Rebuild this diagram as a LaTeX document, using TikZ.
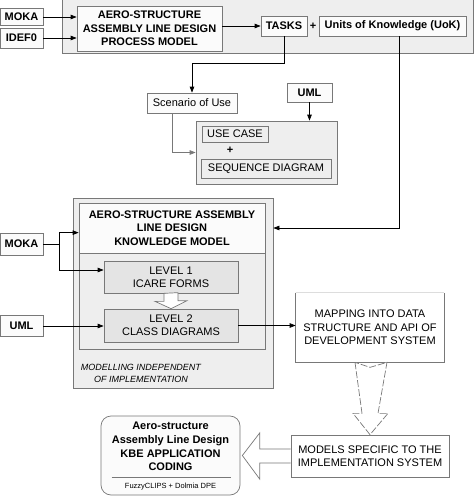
\documentclass[tikz,border=0pt]{standalone}
\usepackage{fontspec}
\setmainfont{Liberation Sans}
\usepackage{tikz}
\usetikzlibrary{positioning, arrows.meta}
\definecolor{kbGray}{RGB}{120, 120, 120}
\definecolor{kbBand}{RGB}{238, 238, 238}
\definecolor{kbLevel}{RGB}{228, 228, 228}
\definecolor{kbLight}{RGB}{251, 251, 251}
\tikzset{
    base/.style={
        font=\fontsize{11}{13.4}\selectfont,
        align=center,
        inner sep=0pt
    },
    tagbox/.style={
        base,
        font=\fontsize{11}{13.4}\selectfont\bfseries,
        rectangle,
        draw=kbGray,
        fill=kbLight
    },
    thinbox/.style={
        base,
        rectangle,
        draw=kbGray,
        fill=kbLight
    },
    panel/.style={
        rectangle,
        draw=kbGray,
        fill=kbBand,
        inner sep=0pt
    },
    flow/.style={
        -{Triangle[length=6pt, width=4.5pt]},
        color=black
    },
    hollow/.style={
        draw=kbGray,
        fill=white
    },
    plus/.style={
        font=\fontsize{11}{12}\selectfont\bfseries,
        inner sep=0pt
    }
}

\begin{document}
\begin{tikzpicture}[x=1pt, y=-1pt, line width=0.7pt]
    \clip (0,0) rectangle (474,496);
    \fill[white] (0,0) rectangle (474,496);

    % Process model band
    \node[panel, minimum width=411pt, minimum height=58pt] (band) at (267.5,24) {};
    \node[tagbox, minimum width=43pt, minimum height=17pt] (mokaA) at (21.5,17) {MOKA};
    \node[tagbox, minimum width=43pt, minimum height=20pt] (idef) at (21.5,38) {IDEF0};
    \node[tagbox, minimum width=145pt, minimum height=45pt] (process) at (149.5,28.5) {AERO-STRUCTURE\\ASSEMBLY LINE DESIGN\\PROCESS MODEL};
    \node[tagbox, minimum width=46pt, minimum height=20pt] (tasks) at (284,26) {TASKS};
    \node[plus] (plusA) at (313,26) {+};
    \node[tagbox, minimum width=147pt, minimum height=20pt] (uok) at (392.5,26) {Units of Knowledge (UoK)};
    \draw[flow] (mokaA.east) -- (mokaA.east -| process.west);
    \draw[flow] (idef.east) -- (idef.east -| process.west);
    \draw[flow] (process.east |- tasks) -- (tasks.west);

    % Scenario of use
    \node[thinbox, minimum width=90pt, minimum height=20pt] (scenario) at (192,103) {Scenario of Use};
    \node[tagbox, minimum width=45pt, minimum height=19pt] (umlA) at (309.5,92.5) {UML};
    \node[panel, minimum width=141pt, minimum height=63pt] (usecases) at (266.5,152.5) {};
    \node[thinbox, fill=kbBand, minimum width=66pt, minimum height=16pt] (usecase) at (235,134) {USE CASE};
    \node[plus] (plusB) at (230,150) {+};
    \node[thinbox, fill=kbBand, minimum width=130pt, minimum height=19pt] (sequence) at (266,168.5) {SEQUENCE DIAGRAM};
    \draw[flow] (tasks.south) -- ++(0,27) -| (scenario.north);
    \draw[flow] (umlA.south) -- (umlA.south |- usecases.north);
    \draw[flow, kbGray] ([xshift=-20pt]scenario.south) |- (usecases.west);

    % Knowledge model
    \node[panel, minimum width=200pt, minimum height=190pt] (outer) at (173,293) {};
    \node[panel, minimum width=186pt, minimum height=146pt] (inner) at (172,276) {};
    \node[tagbox, minimum width=186pt, minimum height=50pt] (header) at (172,228) {AERO-STRUCTURE ASSEMBLY\\LINE DESIGN\\KNOWLEDGE MODEL};
    \node[thinbox, fill=kbLevel, minimum width=134pt, minimum height=32pt] (level1) at (171,277) {LEVEL 1\\ICARE FORMS};
    \node[thinbox, fill=kbLevel, minimum width=134pt, minimum height=33pt] (level2) at (171,325.5) {LEVEL 2\\CLASS DIAGRAMS};
    \draw[hollow] ([xshift=-7pt]level1.south) -- ++(0,8) -- ++(-9,0) -- (level2.north) -- ++(16,-8) -- ++(-9,0) -- ++(0,-8) -- cycle;
    \node[base, font=\fontsize{9}{12}\selectfont\itshape] (caption) at (141,373) {MODELLING INDEPENDENT\\OF IMPLEMENTATION};
    \draw[flow] ([xshift=7pt]uok.south) |- (outer.east |- header.east);

    \node[tagbox, minimum width=43pt, minimum height=22pt] (mokaB) at (21.5,244) {MOKA};
    \node[tagbox, minimum width=43pt, minimum height=21pt] (umlB) at (21.5,326) {UML};
    \draw (mokaB.east) -- ++(16,0) coordinate (split);
    \draw[flow] (split) |- ([yshift=-30pt]inner.north west);
    \draw[flow] (split) |- ([yshift=7pt]level1.west);
    \draw[flow] (umlB.east) -- (umlB.east -| level2.west);

    % Mapping and implementation
    \node[base, fill=white, minimum width=148pt, minimum height=69pt] (mapping) at (370,327.5) {MAPPING INTO DATA\\STRUCTURE AND API OF\\DEVELOPMENT SYSTEM};
    \draw[kbGray!25] (mapping.north west) -- (mapping.north east);
    \draw[kbGray] (mapping.north west) -- (mapping.south west) -- (mapping.south east) -- (mapping.north east);
    \draw[flow] (level2.east) -- (level2.east -| mapping.west);

    \node[thinbox, fill=white, minimum width=158pt, minimum height=42pt] (models) at (370,456) {MODELS SPECIFIC TO THE\\IMPLEMENTATION SYSTEM};
    \draw[hollow, dash pattern=on 7pt off 2pt] ([xshift=-15pt]mapping.south) -- ([shift={(-8,51)}]mapping.south)
        -- ([shift={(-17,51)}]mapping.south) -- (models.north) -- ([shift={(18,51)}]mapping.south)
        -- ([shift={(8,51)}]mapping.south) -- ([xshift=17pt]mapping.south) -- ([shift={(0,5)}]mapping.south) -- cycle;

    \node[thinbox, rounded corners=10pt, minimum width=139pt, minimum height=79pt] (kbe) at (170.5,455.5) {};
    \node[base, font=\fontsize{11}{13.6}\selectfont\bfseries] (kbeTitle) at (170.5,446.5) {Aero-structure\\Assembly Line Design\\KBE APPLICATION\\CODING};
    \draw[kbGray] ([xshift=11pt, yshift=18pt]kbe.south west) -- ([xshift=-9pt, yshift=18pt]kbe.south east);
    \node[base, font=\fontsize{7.5}{9}\selectfont] (kbeTool) at (170.5,487) {FuzzyCLIPS + Dolmia DPE};
    \draw[hollow] ([yshift=7pt]models.west) -- ++(-31,0) -- ++(0,-16) -- ([xshift=2pt]kbe.east)
        -- ([shift={(-31,23)}]models.west) -- ([shift={(-31,7)}]models.west) -- ([yshift=-7pt]models.west);
\end{tikzpicture}
\end{document}
